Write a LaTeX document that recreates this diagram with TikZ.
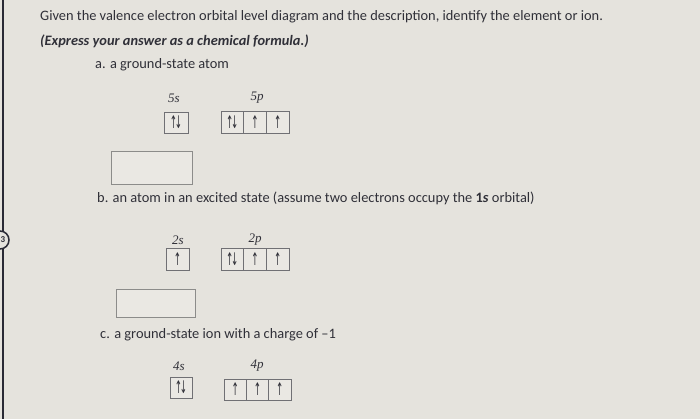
\documentclass[tikz,border=0pt]{standalone}
\usepackage{graphicx}
\usepackage{fontspec}
\setmainfont{Carlito}
\newfontfamily\orbfont{Liberation Serif}
\newfontfamily\arrfont{DejaVu Sans}
\newcommand{\upa}{\scalebox{0.72}[1.45]{↑}}
\newcommand{\dna}{\scalebox{0.72}[1.45]{↓}}
\newcommand{\updn}{\upa\kern-2.2pt\dna}
\definecolor{bgc}{HTML}{E5E3DD}
\definecolor{txt}{HTML}{303038}
\definecolor{boxc}{HTML}{707074}
\definecolor{ansc}{HTML}{8C8C8A}
\definecolor{cellfill}{HTML}{EAE8E3}
\definecolor{edgec}{HTML}{2A2A35}
\begin{document}
\begin{tikzpicture}[x=1pt,y=-1pt,
  every node/.style={text=txt,inner sep=0pt},
  para/.style={anchor=base west,font=\fontsize{14.4}{16}\selectfont},
  orblabel/.style={font=\orbfont\itshape\fontsize{13}{14}\selectfont},
  cell/.style={draw=boxc,fill=cellfill,line width=0.8pt},
  ansbox/.style={draw=ansc,fill=cellfill,line width=1pt},
  arr/.style={font=\arrfont\fontsize{12}{14}\selectfont}]
\fill[bgc] (0,0) rectangle (700,419);
\useasboundingbox (0,0) rectangle (700,419);
% left screen edge
\fill[edgec] (1.5,0) rectangle (4,419);
\draw[edgec,line width=1.5pt,fill=bgc] (0,240) circle (9);
\node[text=edgec,font=\bfseries\fontsize{9}{10}\selectfont] (back) at (3,240) {3};
% text
\node[para] (q) at (40,21) {Given the valence electron orbital level diagram and the description, identify the element or ion.};
\node[para,font=\fontsize{14.4}{16}\selectfont\bfseries\itshape] (q2) at (40,46) {(Express your answer as a chemical formula.)};
\node[para] (qa) at (95,69) {a. a ground-state atom};
% part a orbitals
\node[orblabel] (la1) at (174,98) {5\textit{s}};
\node[orblabel] (la2) at (257,98) {5\textit{p}};
\draw[cell] (164,112) rectangle (188,133);
\node[arr] (a1) at (176,122.5) {\updn};
\draw[cell] (221,111) rectangle (243.7,133);
\draw[cell] (243.7,111) rectangle (266.3,133);
\draw[cell] (266.3,111) rectangle (289,133);
\node[arr] (a2) at (232.3,122) {\updn};
\node[arr] (a3) at (255,122) {\upa};
\node[arr] (a4) at (277.7,122) {\upa};
\draw[ansbox] (111,152) rectangle (192,185);
% part b
\node[para] (qb) at (97,203) {b. an atom in an excited state (assume two electrons occupy the {\bfseries 1\textit{s}} orbital)};
\node[orblabel] (lb1) at (178,240) {2\textit{s}};
\node[orblabel] (lb2) at (255,240) {2\textit{p}};
\draw[cell] (166,248) rectangle (189,270);
\node[arr] (b1) at (177.5,259) {\upa};
\draw[cell] (221,248) rectangle (243.7,270);
\draw[cell] (243.7,248) rectangle (266.3,270);
\draw[cell] (266.3,248) rectangle (289,270);
\node[arr] (b2) at (232.3,259) {\updn};
\node[arr] (b3) at (255,259) {\upa};
\node[arr] (b4) at (277.7,259) {\upa};
\draw[ansbox] (116,289) rectangle (195,317);
% part c
\node[para] (qc) at (100,338) {c. a ground-state ion with a charge of \textendash1};
\node[orblabel] (lc1) at (179,366) {4\textit{s}};
\node[orblabel] (lc2) at (257,366) {4\textit{p}};
\draw[cell] (170,377) rectangle (192,398);
\node[arr] (c1) at (181,387.5) {\updn};
\draw[cell] (224,379) rectangle (246.3,400);
\draw[cell] (246.3,379) rectangle (268.7,400);
\draw[cell] (268.7,379) rectangle (291,400);
\node[arr] (c2) at (235.2,389.5) {\upa};
\node[arr] (c3) at (257.5,389.5) {\upa};
\node[arr] (c4) at (279.8,389.5) {\upa};
\end{tikzpicture}
\end{document}
